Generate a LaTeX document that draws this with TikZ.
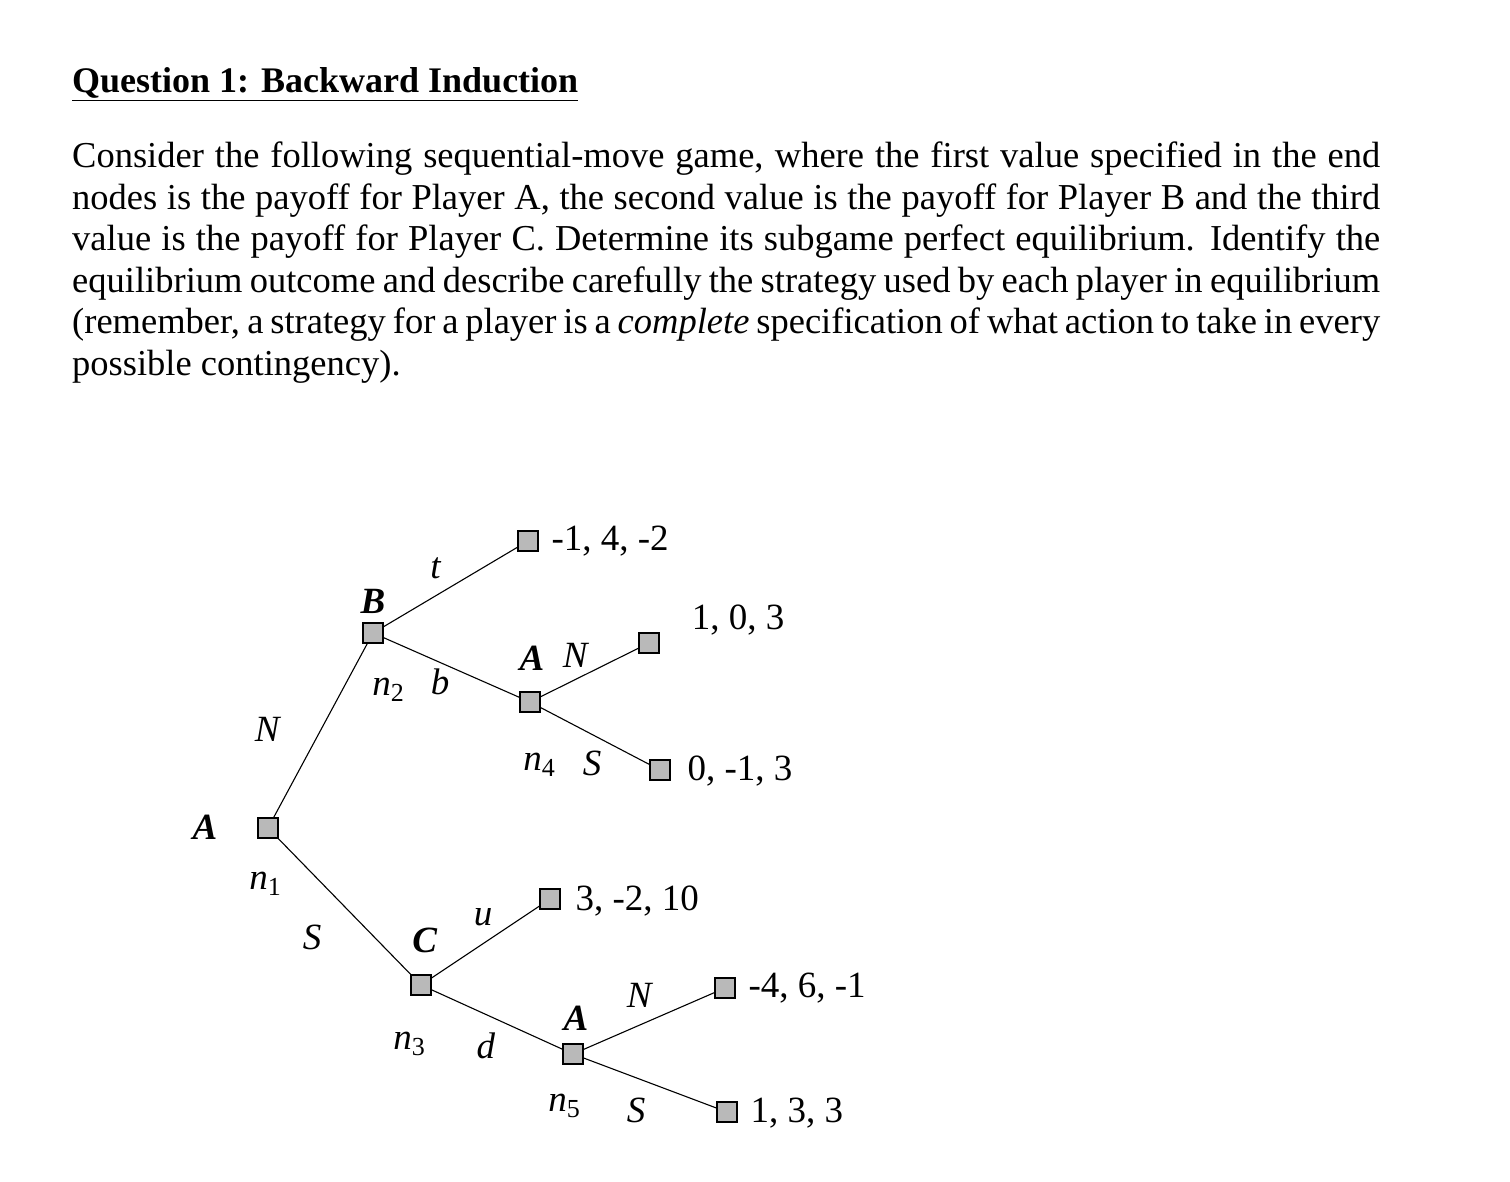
\documentclass[tikz,border=0pt]{standalone}
\usepackage{fontspec}
\setmainfont{Liberation Serif}
\newcommand{\nsub}[1]{\textit{n}\raisebox{-0.35ex}{\fontsize{26}{26}\selectfont #1}}
\begin{document}
\begin{tikzpicture}[x=1pt,y=-1pt,
  sq/.style={draw,fill=gray!55,minimum size=20pt,inner sep=0,line width=1.3pt},
  lab/.style={font=\fontsize{37}{42}\selectfont},
  ed/.style={line width=1.1pt}]
\useasboundingbox (0,0) rectangle (1510,1182);
\node[anchor=base west,inner sep=0,font=\fontsize{36}{42}\selectfont\bfseries] (title) at (72,93) {\underline{Question 1: Backward Induction}};
\node[anchor=north west,inner sep=0,text width=1308pt,align=justify,font=\fontsize{36.5}{41.5}\selectfont] (para) at (72,142)
{Consider the following sequential-move game, where the first value specified in the end nodes is the payoff for Player A, the second value is the payoff for Player B and the third value is the payoff for Player C. Determine its subgame perfect equilibrium. Identify the equilibrium outcome and describe carefully the strategy used by each player in equilibrium (remember, a strategy for a player is a \emph{complete} specification of what action to take in every possible contingency).};
\node[sq] (n1) at (268,828) {};
\node[sq] (n2) at (373,633) {};
\node[sq] (lt) at (528,541) {};
\node[sq] (n4) at (530,702) {};
\node[sq] (l4n) at (649,643) {};
\node[sq] (l4s) at (660,770) {};
\node[sq] (n3) at (421,985) {};
\node[sq] (lu) at (550,899) {};
\node[sq] (n5) at (573,1054) {};
\node[sq] (l5n) at (725,988) {};
\node[sq] (l5s) at (727,1112) {};
\draw[ed] (n1) -- (n2); \draw[ed] (n1) -- (n3);
\draw[ed] (n2) -- (lt); \draw[ed] (n2) -- (n4);
\draw[ed] (n4) -- (l4n); \draw[ed] (n4) -- (l4s);
\draw[ed] (n3) -- (lu); \draw[ed] (n3) -- (n5);
\draw[ed] (n5) -- (l5n); \draw[ed] (n5) -- (l5s);
\node[lab,anchor=west] (p1) at (548,541) {-1, 4, -2};
\node[lab] (p2) at (738,620) {1, 0, 3};
\node[lab,anchor=west] (p3) at (684,771) {0, -1, 3};
\node[lab,anchor=west] (p4) at (572,901) {3, -2, 10};
\node[lab,anchor=west] (p5) at (745,988) {-4, 6, -1};
\node[lab,anchor=west] (p6) at (747,1113) {1, 3, 3};
\node[lab] (lA) at (205,827) {\textbf{\textit{A}}};
\node[lab] (ln1) at (265,884) {\nsub{1}};
\node[lab] (lN1) at (268,729) {\textit{N}};
\node[lab] (lS1) at (312,937) {\textit{S}};
\node[lab] (lB) at (373,601) {\textbf{\textit{B}}};
\node[lab] (lt1) at (436,568) {\textit{t}};
\node[lab] (lb1) at (440,682) {\textit{b}};
\node[lab] (ln2) at (388,690) {\nsub{2}};
\node[lab] (lA2) at (532,658) {\textbf{\textit{A}}};
\node[lab] (lN2) at (576,655) {\textit{N}};
\node[lab] (ln4) at (539,765) {\nsub{4}};
\node[lab] (lS2) at (592,763) {\textit{S}};
\node[lab] (lC) at (425,940) {\textbf{\textit{C}}};
\node[lab] (lu1) at (483,917) {\textit{u}};
\node[lab] (ln3) at (409,1044) {\nsub{3}};
\node[lab] (ld1) at (486,1046) {\textit{d}};
\node[lab] (lA3) at (576,1018) {\textbf{\textit{A}}};
\node[lab] (lN3) at (640,995) {\textit{N}};
\node[lab] (ln5) at (564,1106) {\nsub{5}};
\node[lab] (lS3) at (636,1110) {\textit{S}};
\end{tikzpicture}
\end{document}
